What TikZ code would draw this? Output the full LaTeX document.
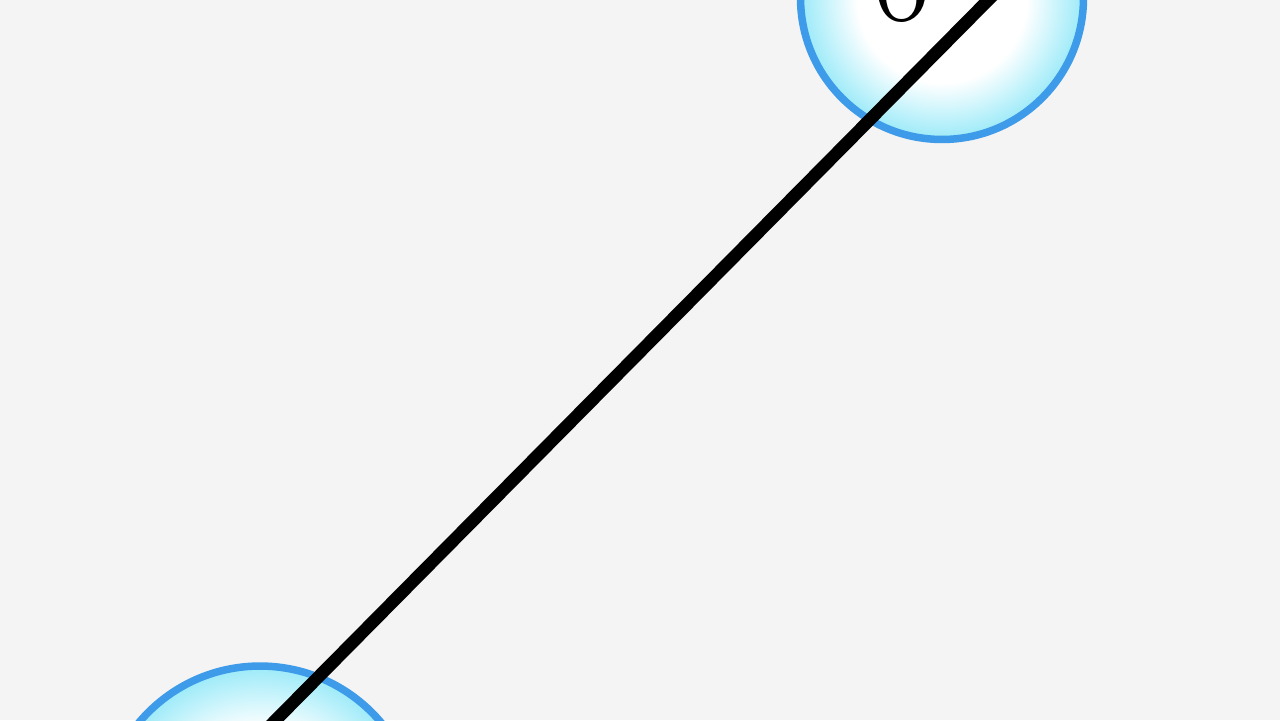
\documentclass[tikz,border=0pt]{standalone}
\usepackage{tikz}
\usetikzlibrary{positioning,shapes,calc}

\definecolor{bgray}{HTML}{F4F4F4}
\definecolor{rimblue}{HTML}{3D9BE9}
\definecolor{bubcyan}{HTML}{55DCF4}
\pgfdeclareradialshading{bubble}{\pgfpoint{0bp}{0bp}}{%
  color(0bp)=(white); color(15bp)=(white); color(32bp)=(bubcyan); color(50bp)=(bubcyan)}

\begin{document}
\begin{tikzpicture}[
  x=0.02cm, y=-0.02cm,
  ball/.style={shape=circle, draw=rimblue, line width=0.15cm, shading=bubble, inner sep=0pt},
  edge/.style={line width=0.25cm, black}
]
  % Frame
  \fill[bgray] (0,0) rectangle (1280,720);
  \useasboundingbox (0,0) rectangle (1280,720);
  \clip (0,0) rectangle (1280,720);
  % Nodes
  \node[ball, minimum size=5.66cm,
    label={[font=\fontsize{72}{76}\selectfont, xshift=-0.8cm, yshift=0.36cm]center:6}] (six) at (942,-2) {};
  \node[ball, minimum size=6.32cm] (low) at (260,824) {};
  % Edge
  \coordinate (e1) at (256,740);
  \coordinate (e2) at (1008,-20);
  \draw[edge] (e1) -- (e2);
\end{tikzpicture}
\end{document}
